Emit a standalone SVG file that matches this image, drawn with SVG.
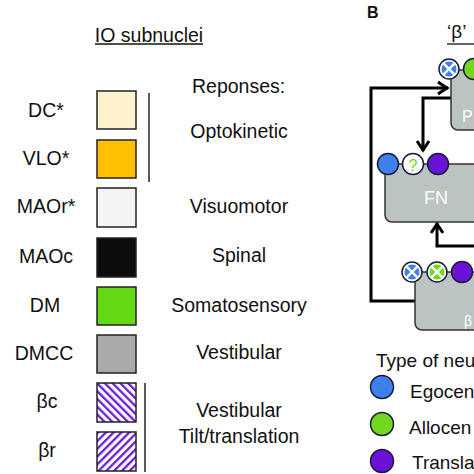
<svg xmlns="http://www.w3.org/2000/svg" width="474" height="474" viewBox="0 0 474 474">
<style>
text{font-family:"Liberation Sans",Arial,sans-serif;fill:#111}
.lbl{font-size:19.5px;text-anchor:middle}
.rsp{font-size:19.5px;text-anchor:middle}
.sw{stroke:#222;stroke-width:1.5}
.box{fill:#bcc3c3;stroke:#333;stroke-width:1.5}
.bt{font-size:18px;fill:#fff;text-anchor:middle}
.dot{stroke:#1a1a3a;stroke-width:1.5}
.con{fill:none;stroke:#000;stroke-width:3}
.leg{font-size:19px}
</style>
<defs>
<pattern id="hatchA" width="5.5" height="5.5" patternUnits="userSpaceOnUse" patternTransform="rotate(-45)">
<rect width="5.5" height="5.5" fill="#fff"/>
<rect width="2.3" height="5.5" fill="#6a1fd0"/>
</pattern>
<pattern id="hatchB" width="5.5" height="5.5" patternUnits="userSpaceOnUse" patternTransform="rotate(45)">
<rect width="5.5" height="5.5" fill="#fff"/>
<rect width="2.3" height="5.5" fill="#6a1fd0"/>
</pattern>
<marker id="arr" viewBox="-13 -8 15 16" refX="0" refY="0" markerWidth="15" markerHeight="16" markerUnits="userSpaceOnUse" orient="auto">
<path d="M-10,-6 L-1,0 L-10,6" fill="none" stroke="#000" stroke-width="3"/>
</marker>
<g id="xcirc">
<circle r="10" fill="#fff" class="dot"/>
<circle r="7.5" fill="currentColor"/>
<path d="M-5.3,-5.3 L5.3,5.3 M-5.3,5.3 L5.3,-5.3" stroke="#fff" stroke-width="2.4"/>
</g>
</defs>
<rect width="474" height="474" fill="#fff"/>

<!-- Panel A -->
<g id="titleA">
<text x="149" y="42" style="font-size:19.5px;text-anchor:middle">IO subnuclei</text>
<line x1="95" y1="44" x2="203" y2="44" stroke="#111" stroke-width="1.3"/>
</g>
<text x="192" y="93" style="font-size:19.5px">Reponses:</text>

<g id="DC"><text class="lbl" x="46" y="117">DC*</text><rect class="sw" x="97" y="91" width="39" height="38" fill="#fff2cc"/></g>
<g id="VLO"><text class="lbl" x="46" y="165">VLO*</text><rect class="sw" x="97" y="140" width="39" height="38" fill="#ffc000"/></g>
<g id="MAOr"><text class="lbl" x="46" y="213">MAOr*</text><rect class="sw" x="97" y="188" width="39" height="39" fill="#f4f4f4"/></g>
<g id="MAOc"><text class="lbl" x="46" y="263">MAOc</text><rect class="sw" x="97" y="238" width="39" height="39" fill="#0d0d0d"/></g>
<g id="DM"><text class="lbl" x="45" y="312">DM</text><rect class="sw" x="97" y="287" width="39" height="38" fill="#63d814"/></g>
<g id="DMCC"><text class="lbl" x="44" y="360">DMCC</text><rect class="sw" x="97" y="335" width="39" height="38" fill="#a9abab"/></g>
<g id="bc"><text class="lbl" x="47" y="408">βc</text><rect class="sw" x="97" y="383" width="39" height="39" fill="url(#hatchA)"/></g>
<g id="br"><text class="lbl" x="47" y="457">βr</text><rect class="sw" x="97" y="432" width="39" height="39" fill="url(#hatchB)"/></g>

<g id="brackets" stroke="#222" stroke-width="1.5">
<line x1="149" y1="93" x2="149" y2="182"/>
<line x1="145" y1="383" x2="145" y2="472"/>
</g>

<g id="responses">
<text class="rsp" x="239" y="138">Optokinetic</text>
<text class="rsp" x="239" y="213">Visuomotor</text>
<text class="rsp" x="239" y="262">Spinal</text>
<text class="rsp" x="239" y="312">Somatosensory</text>
<text class="rsp" x="239" y="359">Vestibular</text>
<text class="rsp" x="239" y="417">Vestibular</text>
<text class="rsp" x="239" y="443">Tilt/translation</text>
</g>

<!-- Panel B -->
<text x="367" y="18" style="font-size:16px;font-weight:bold">B</text>
<g id="titleB">
<text x="447" y="38" style="font-size:19px">‘β’</text>
<line x1="447" y1="44" x2="474" y2="44" stroke="#111" stroke-width="1.3"/>
</g>

<g id="connectors">
<path class="con" d="M415,301 H371 V88 H448" marker-end="url(#arr)"/>
<path class="con" d="M452,98 H423 V151" marker-end="url(#arr)"/>
<path class="con" d="M474,246 H437 V223" marker-end="url(#arr)"/>
</g>

<g id="PC">
<rect class="box" x="451" y="70" width="40" height="60" rx="7"/>
<text x="462" y="122" style="font-size:16px;fill:#fff">P</text>
<use href="#xcirc" x="449" y="69" color="#3d80ee"/>
<circle class="dot" cx="474" cy="69" r="10.5" fill="#6fd81f"/>
</g>

<g id="FN">
<rect class="box" x="385" y="164" width="110" height="58" rx="7"/>
<text class="bt" x="436" y="204">FN</text>
<circle class="dot" cx="388" cy="164" r="10.5" fill="#3d80ee"/>
<circle class="dot" cx="413" cy="164" r="10.5" fill="#fff"/>
<text x="413" y="170.5" style="font-size:16px;fill:#6fd81f;text-anchor:middle">?</text>
<circle class="dot" cx="438" cy="164" r="10.5" fill="#6a12d6"/>
</g>

<g id="beta">
<rect class="box" x="415" y="272" width="80" height="58" rx="7"/>
<text x="464" y="326" style="font-size:14px;fill:#fff">β</text>
<use href="#xcirc" x="412" y="272" color="#3d80ee"/>
<use href="#xcirc" x="437" y="272" color="#6fd81f"/>
<circle class="dot" cx="462" cy="272" r="10.5" fill="#6a12d6"/>
</g>

<g id="legend">
<text class="leg" x="376" y="367">Type of neu</text>
<circle class="dot" cx="382" cy="387" r="11.5" fill="#3d80ee"/>
<text class="leg" x="410" y="398">Egocen</text>
<circle class="dot" cx="382" cy="424" r="11.5" fill="#6fd81f"/>
<text class="leg" x="409" y="434">Allocen</text>
<circle class="dot" cx="382" cy="461" r="11.5" fill="#6a12d6"/>
<text class="leg" x="412" y="469">Transla</text>
</g>
</svg>
